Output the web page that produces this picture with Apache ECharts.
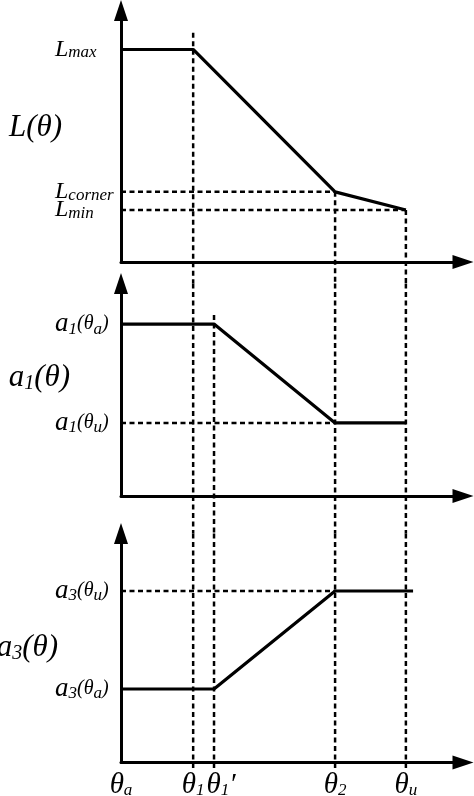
<!DOCTYPE html>
<html>
<head>
<meta charset="utf-8">
<script src="https://cdn.jsdelivr.net/npm/echarts@6/dist/echarts.min.js"></script>
<style>
  html, body { margin: 0; padding: 0; background: #fff; }
  #main { width: 474px; height: 796px; }
</style>
</head>
<body>
<div id="main"></div>
<script>
// key angles on the shared x axis: theta_a, theta_1, theta_1', theta_2, theta_u
const thetaValues = [0, 2.11, 2.72, 6.26, 8.33];
const thetaLabels = ['{t|θ}{s|a}', '{t|θ}{s|1}', '{g|}{t|θ}{s|1}{t|′}', '{t|θ}{s|2}', '{t|θ}{s|u}'];

// panel 1 : L(theta)
const lX = [0, 2.11, 6.26, 8.33];
const lY = [8.45, 8.45, 2.79, 2.07];
const lTicks = [8.45, 2.07];
const lTickLabels = ['{l|L}{s|max}', '{l|L}{s|min}'];
// L_corner sits too close to L_min for one axis, so it gets its own (line-less) axis
const lCornerTicks = [2.79];
const lCornerLabels = ['{l|L}{s|corner}'];

// panel 2 : a1(theta)
const a1X = [0, 2.72, 6.26, 8.33];
const a1Y = [8.09, 8.09, 3.44, 3.44];
const a1Ticks = [8.09, 3.44];
const a1TickLabels = ['{b|a}{s|1}{p|(θ}{s|a}{p|)}', '{b|a}{s|1}{p|(θ}{s|u}{p|)}'];

// panel 3 : a3(theta)
const a3X = [0, 2.72, 6.26, 8.54];
const a3Y = [3.21, 3.21, 7.49, 7.49];
const a3Ticks = [7.49, 3.21];
const a3TickLabels = ['{b|a}{s|3}{p|(θ}{s|u}{p|)}', '{b|a}{s|3}{p|(θ}{s|a}{p|)}'];

// dashed guides: verticals at theta_1, theta_1', theta_2, theta_u (start value per panel, null = none)
const guideX = [2.11, 2.72, 6.26, 8.33];
const guideStart = [
  [9.12, null, 2.79, 2.07],
  [10, 8.52, 10, 10],
  [10, 10, 10, 10]
];
// horizontal guides: [y value, x end]
const guideH = [
  [[2.79, 6.26], [2.07, 8.33]],
  [[3.44, 6.26]],
  [[7.49, 6.26]]
];

const serif = 'Liberation Serif';
const txt = (size, extra) => Object.assign({fontSize: size, fontStyle: 'italic', fontFamily: serif, color: '#000'}, extra);
const rich = {
  l: txt(24),
  b: txt(27),
  p: txt(20),
  s: txt(17, {verticalAlign: 'bottom'}),
  t: txt(29),
  g: {width: 14}
};
const nameRich = {
  b: txt(31),
  n: txt(20, {verticalAlign: 'bottom'})
};

const grids = [
  {left: 121, right: 11, top: 10.5, bottom: 534},
  {left: 121, right: 11, top: 283.5, bottom: 300},
  {left: 121, right: 11, top: 533.5, bottom: 33.5}
];
grids.forEach(g => { g.containLabel = false; g.outerBoundsMode = 'none'; });

const axisLine = {
  show: true, onZero: false,
  lineStyle: {color: '#000', width: 3},
  symbol: ['none', 'triangle'], symbolSize: [14, 21]
};

function xAxisFor(i) {
  let label = {show: false};
  if (i === 2) {
    label = {
      show: true, customValues: thetaValues, margin: 8, rich: rich, hideOverlap: false,
      showMinLabel: true, showMaxLabel: true,
      formatter: v => thetaLabels[thetaValues.indexOf(v)] || ''
    };
  }
  return {
    type: 'value', gridIndex: i, min: 0, max: 10,
    axisLine: axisLine, axisTick: {show: false}, splitLine: {show: false},
    axisLabel: label
  };
}

function yAxisFor(i, ticks, labels, name, gap, shift) {
  const axis = {
    type: 'value', gridIndex: i, min: 0, max: 10, position: 'left',
    axisLine: axisLine, axisTick: {show: false}, splitLine: {show: false},
    axisLabel: {
      customValues: ticks, align: 'left', margin: 66, rich: rich, hideOverlap: false,
      showMinLabel: true, showMaxLabel: true,
      formatter: v => labels[ticks.indexOf(v)] || ''
    }
  };
  if (name) {
    Object.assign(axis, {
      name: name, nameLocation: 'middle', nameRotate: 0, nameGap: gap, nameMoveOverlap: false,
      nameTextStyle: {align: 'right', rich: nameRich, padding: [0, 0, shift, 0]}
    });
  } else {
    axis.axisLine = {show: false};
  }
  return axis;
}

function seg(i, pts, dashed) {
  return {
    type: 'line', xAxisIndex: i, yAxisIndex: i, data: pts,
    symbol: 'none', clip: false, silent: true,
    lineStyle: {color: '#000', width: dashed ? 2.5 : 3.2, type: dashed ? [5, 3.5] : 'solid'},
    z: dashed ? 2 : 3
  };
}

const zip = (xs, ys) => xs.map((x, k) => [x, ys[k]]);

const chart = echarts.init(document.getElementById('main'));
const option = {
  backgroundColor: '#fff',
  animation: false,
  grid: grids,
  xAxis: [xAxisFor(0), xAxisFor(1), xAxisFor(2)],
  yAxis: [
    yAxisFor(0, lTicks, lTickLabels, '{b|L(θ)}', 59, 17),
    yAxisFor(1, a1Ticks, a1TickLabels, '{b|a}{n|1}{b|(θ)}', 51, 24),
    yAxisFor(2, a3Ticks, a3TickLabels, '{b|a}{n|3}{b|(θ)}', 63, 0),
    yAxisFor(0, lCornerTicks, lCornerLabels, null)
  ],
  series: [
    seg(0, zip(lX, lY), false),
    seg(1, zip(a1X, a1Y), false),
    seg(2, zip(a3X, a3Y), false)
  ]
};
chart.setOption(option);

// lower end of each panel's verticals: the next panel's top (or a little under the last axis)
const ends = [0, 1, 2].map(i => {
  const px = i < 2 ? grids[i + 1].top : 796 - grids[2].bottom + 6;
  return chart.convertFromPixel({xAxisIndex: i, yAxisIndex: i}, [0, px])[1];
});

const guides = [];
guideStart.forEach((starts, i) => {
  starts.forEach((s, k) => {
    if (s !== null) guides.push(seg(i, [[guideX[k], s], [guideX[k], ends[i]]], true));
  });
  guideH[i].forEach(h => guides.push(seg(i, [[0, h[0]], [h[1], h[0]]], true)));
});
chart.setOption({series: option.series.concat(guides)});
</script>
</body>
</html>
